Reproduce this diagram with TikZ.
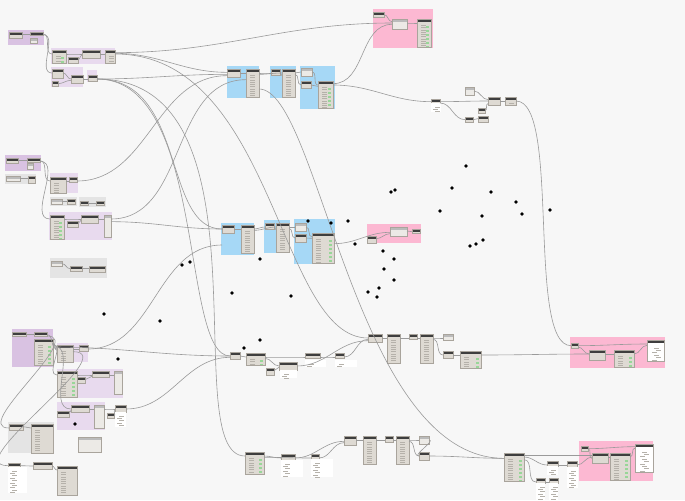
\documentclass[tikz,border=0pt]{standalone}
\usetikzlibrary{fit,calc}
\definecolor{bg}{HTML}{F7F7F7}
\definecolor{purA}{HTML}{D9C2E2}
\definecolor{purB}{HTML}{E8DAEE}
\definecolor{blu}{HTML}{A6D8F6}
\definecolor{pnk}{HTML}{FCB8D2}
\definecolor{gry}{HTML}{E4E4E4}
\definecolor{nbody}{HTML}{DEDAD3}
\definecolor{nedge}{HTML}{A9A49C}
\definecolor{hdr}{HTML}{3E3E3E}
\definecolor{wirec}{HTML}{9A9A9A}
\definecolor{gbar}{HTML}{98D698}
\definecolor{txt}{HTML}{B5B1AA}
\definecolor{lite}{HTML}{ECEAE6}
\tikzset{
 hdrpic/.style={path picture={\fill[hdr] (path picture bounding box.north west) rectangle ([yshift=-2.2pt]path picture bounding box.north east);}},
 dn/.style={draw=nedge, line width=0.3pt, fill=nbody, inner sep=0pt, outer sep=0pt, hdrpic},
 lst/.style={draw=nedge, line width=0.3pt, fill=nbody, inner sep=0pt, outer sep=0pt,
   path picture={\fill[hdr] (path picture bounding box.north west) rectangle ([yshift=-2.2pt]path picture bounding box.north east);
     \foreach \k in {1,...,16} \draw[txt,line width=0.3pt] ([xshift=3pt,yshift={-3pt-\k*1.7pt}]path picture bounding box.north west) -- ++(5,0);}},
 grn/.style={draw=nedge, line width=0.3pt, fill=nbody, inner sep=0pt, outer sep=0pt,
   path picture={\fill[hdr] (path picture bounding box.north west) rectangle ([yshift=-2.2pt]path picture bounding box.north east);
     \foreach \k in {1,...,12} {\draw[txt,line width=0.3pt] ([xshift=3pt,yshift={-3pt-\k*1.7pt}]path picture bounding box.north west) -- ++(5,0);
       \fill[gbar] ([xshift=-3.6pt,yshift={-2pt-\k*3pt}]path picture bounding box.north east) rectangle ++(3,2.6);}}},
 lt/.style={draw=nedge, line width=0.3pt, fill=lite, inner sep=0pt, outer sep=0pt,
   path picture={\fill[hdr!35] (path picture bounding box.north west) rectangle ([yshift=-2pt]path picture bounding box.north east);}},
 wn/.style={draw=nedge, line width=0.3pt, fill=white, inner sep=0pt, outer sep=0pt,
   path picture={\fill[hdr] (path picture bounding box.north west) rectangle ([yshift=-2.2pt]path picture bounding box.north east);
     \foreach \k in {1,...,12} \draw[txt,line width=0.3pt] ([xshift={4pt+mod(\k,3)*1.5pt},yshift={-4pt-\k*1.8pt}]path picture bounding box.north west) -- ++(5,0);}},
 wb/.style={fill=white, draw=none, inner sep=0pt, outer sep=0pt,
   path picture={\foreach \k in {1,...,10} \draw[txt,line width=0.3pt] ([xshift={1.5pt+mod(\k,2)*1.5pt},yshift={-1pt-\k*1.8pt}]path picture bounding box.north west) -- ++(5,0);}},
 grp/.style={inner sep=0pt, outer sep=0pt, draw=none},
 dotn/.style={circle, fill=black, inner sep=0pt, minimum size=2.8pt},
 wire/.style={draw=wirec, line width=0.45pt},
}
\newcommand\G[6]{\node[grp, fill=#2, fit={(#3,#4) (#5,#6)}] (#1) {};}
\newcommand\N[6][dn]{\node[#1, fit={(#3,#4) (#5,#6)}] (#2) {};}
\newcommand\W[4]{\draw[wire] ([yshift=-#3pt]#1.north east) to[out=0,in=180] ([yshift=-#4pt]#2.north west);}
\newcommand\WL[6]{\draw[wire] ([yshift=-#3pt]#1.north east) .. controls +(#5,0) and +(-#6,0) .. ([yshift=-#4pt]#2.north west);}
\newcommand\D[3]{\node[dotn] (#1) at (#2,#3) {};}
\begin{document}
\begin{tikzpicture}[x=0.75pt,y=-0.75pt]
\fill[bg] (0,0) rectangle (685,500);
\useasboundingbox (0,0) rectangle (685,500);
% ---------- groups
\G{g1}{purA}{8}{30}{44}{45}
\G{g2}{purB}{51}{48}{115}{64}
\G{g3}{purB}{51}{67}{83}{87}
\G{g4}{purB}{87}{70}{97}{82}
\G{g5}{blu}{227}{66}{259}{98}
\G{g6}{blu}{270}{66}{296}{98}
\G{g7}{blu}{300}{66}{335}{109}
\G{g8}{pnk}{373}{9}{433}{48}
\G{g9}{purA}{5}{155}{41}{171}
\G{g10}{gry}{5}{174}{36}{184}
\G{g11}{purB}{50}{173}{78}{193}
\G{g12}{gry}{50}{197}{77}{206}
\G{g13}{gry}{79}{197}{106}{207}
\G{g14}{purB}{49}{212}{112}{240}
\G{g15}{gry}{50}{258}{107}{278}
\G{g16}{blu}{221}{223}{254}{255}
\G{g17}{blu}{264}{220}{290}{253}
\G{g18}{blu}{294}{219}{335}{264}
\G{g19}{pnk}{367}{224}{421}{243}
\G{g20}{purA}{12}{329}{53}{367}
\G{g21}{purB}{57}{343}{88}{362}
\G{g22}{purB}{57}{369}{123}{398}
\G{g23}{purB}{57}{402}{105}{430}
\G{g24}{gry}{8}{422}{54}{453}
\G{g25}{pnk}{570}{337}{665}{368}
\G{g26}{pnk}{579}{441}{653}{481}
% ---------- nodes
\N{a1}{9}{32}{22}{38}
\N{a2}{30}{32}{43}{35}
\N[lt]{a3}{30}{38}{37}{43}
\N[grn]{b1}{52}{50}{66}{63}
\N{b2}{68}{57}{78}{63}
\N{b3}{82}{50}{100}{58}
\N[lst]{b4}{105}{50}{115}{63}
\N{c1}{52}{69}{63}{78}
\N{c2}{52}{81}{58}{86}
\N{c3}{71}{75}{83}{83}
\N{c4}{88}{75}{97}{81}
\N{e1}{227}{69}{240}{77}
\N[lst]{e2}{246}{69}{259}{97}
\N{e3}{271}{69}{280}{75}
\N[lst]{e4}{282}{69}{295}{97}
\N[lt]{e5}{301}{68}{312}{76}
\N{e6}{301}{81}{311}{88}
\N[grn]{e7}{318}{81}{333}{108}
\N{p1}{373}{12}{384}{17}
\N[lt]{p2}{392}{19}{407}{29}
\N[grn]{p3}{417}{19}{431}{47}
\N[lt]{f1}{465}{87}{474}{95}
\N{f2}{431}{99}{440}{103}
\N{f3}{488}{97}{500}{105}
\N[lst]{f4}{505}{97}{516}{105}
\N{f5}{465}{117}{473}{122}
\N{f6}{478}{108}{485}{113}
\N{f7}{478}{116}{488}{122}
\N{h1}{6}{158}{18}{163}
\N{h2}{27}{158}{40}{162}
\N[lt]{h3}{27}{163}{33}{169}
\N[lt]{h4}{6}{176}{20}{181}
\N{h5}{28}{176}{35}{183}
\N[lst]{h6}{50}{177}{66}{193}
\N{h7}{69}{177}{77}{182}
\N[lt]{h8}{51}{199}{62}{204}
\N{h9}{67}{199}{75}{204}
\N{h10}{80}{201}{88}{205}
\N{h11}{96}{201}{104}{205}
\N[grn]{h12}{50}{215}{64}{239}
\N{h13}{67}{221}{78}{227}
\N{h14}{81}{215}{98}{223}
\N[lt]{h15}{104}{215}{111}{237}
\N[lt]{h16}{51}{261}{62}{266}
\N{h17}{70}{266}{82}{271}
\N{h18}{89}{266}{105}{272}
\N{m1}{222}{225}{234}{233}
\N[lst]{m2}{241}{225}{254}{253}
\N{m3}{265}{223}{274}{229}
\N[lst]{m4}{276}{223}{289}{252}
\N[lt]{m5}{295}{223}{306}{231}
\N{m6}{295}{234}{306}{242}
\N[grn]{m7}{312}{233}{334}{263}
\N{m8}{367}{236}{376}{243}
\N[lt]{m9}{390}{227}{407}{236}
\N{m10}{412}{229}{420}{233}
\N{k1}{12}{332}{26}{336}
\N{k2}{34}{332}{47}{336}
\N[grn]{k3}{34}{339}{53}{365}
\N[lst]{k4}{57}{345}{73}{362}
\N{k5}{79}{345}{88}{351}
\N[grn]{k6}{57}{371}{77}{397}
\N{k7}{77}{377}{85}{383}
\N{k8}{92}{371}{109}{377}
\N[lt]{k9}{114}{371}{122}{394}
\N{k10}{57}{411}{69}{417}
\N{k11}{71}{405}{89}{412}
\N[lt]{k12}{94}{405}{104}{428}
\N{k13}{107}{413}{114}{418}
\N{k14}{115}{405}{126}{412}
\N{k15}{9}{424}{23}{430}
\N[lst]{k16}{31}{424}{53}{453}
\N[lt]{k17}{78}{437}{101}{452}
\N{k18}{8}{463}{20}{467}
\N{k19}{33}{462}{52}{469}
\N[lst]{k20}{57}{466}{77}{495}
\N{r1}{230}{352}{240}{359}
\N[grn]{r2}{246}{353}{265}{365}
\N{r3}{266}{368}{274}{375}
\N{r4}{279}{362}{297}{370}
\N{r5}{305}{353}{320}{358}
\N{r6}{335}{353}{344}{358}
\N{r7}{368}{334}{382}{342}
\N[lst]{r8}{387}{334}{400}{363}
\N{r9}{409}{334}{417}{339}
\N[lst]{r10}{420}{334}{433}{363}
\N[lt]{r11}{443}{334}{453}{340}
\N{r12}{443}{351}{453}{358}
\N[grn]{r13}{460}{351}{481}{368}
\N{q1}{571}{343}{578}{348}
\N{q2}{589}{350}{605}{360}
\N[grn]{q3}{614}{350}{634}{367}
\N[wn]{q4}{647}{340}{664}{361}
\N[grn]{s1}{245}{452}{264}{474}
\N{s2}{281}{454}{295}{460}
\N{s3}{311}{454}{319}{459}
\N{s4}{344}{436}{356}{445}
\N[lst]{s5}{363}{436}{376}{464}
\N{s6}{385}{436}{393}{442}
\N[lst]{s7}{396}{436}{409}{464}
\N[lt]{s8}{419}{436}{429}{444}
\N{s9}{419}{452}{429}{460}
\N[grn]{t1}{504}{453}{524}{481}
\N{t2}{547}{461}{558}{466}
\N{t3}{567}{461}{577}{467}
\N{t4}{536}{478}{545}{483}
\N{t5}{549}{478}{558}{483}
\N{t6}{581}{446}{588}{451}
\N{t7}{592}{453}{608}{463}
\N[grn]{t8}{610}{453}{630}{480}
\N[wn]{t9}{635}{444}{653}{472}
% ---------- previews
\N[wb]{w1}{431}{103}{441}{112}
\N[wb]{w2}{115}{412}{126}{427}
\N[wb]{w3}{8}{467}{27}{493}
\N[wb]{w4}{280}{370}{297}{378}
\N[wb]{w5}{305}{360}{326}{367}
\N[wb]{w6}{335}{360}{357}{367}
\N[wb]{w7}{281}{460}{303}{477}
\N[wb]{w8}{311}{459}{333}{477}
\N[wb]{w9}{547}{466}{558}{475}
\N[wb]{w10}{567}{467}{578}{488}
\N[wb]{w11}{536}{483}{545}{500}
\N[wb]{w12}{549}{483}{558}{500}
% ---------- wires
\W{a1}{a2}{2}{2}
\W{a2}{b1}{1.5}{3}
\W{a2}{c1}{2}{3}
\W{b1}{b3}{3}{3}
\W{b2}{b3}{2}{4}
\W{b3}{b4}{3}{3}
\W{c1}{c3}{3}{3}
\W{c2}{c3}{2}{4}
\W{c3}{c4}{3}{3}
\W{b4}{p2}{2}{3}
\W{b4}{e1}{2.5}{2.5}
\WL{b4}{r7}{3}{3}{160}{90}
\W{c4}{e1}{3}{4}
\WL{c4}{m1}{3}{3}{90}{60}
\WL{c4}{s1}{3}{3}{180}{70}
\WL{c4}{r1}{3}{3}{110}{50}
\W{e1}{e2}{3}{3}
\W{e2}{e3}{3}{3}
\W{e2}{e4}{4}{3}
\W{e3}{e4}{3}{5}
\W{e4}{e5}{3}{3}
\W{e4}{e6}{4}{3}
\W{e5}{e7}{3}{3}
\W{e6}{e7}{3}{4}
\W{e7}{f2}{3}{2}
\W{e7}{p2}{2}{4}
\WL{e2}{t1}{15}{4}{60}{150}
\W{p1}{p2}{2}{2}
\W{p2}{p3}{3}{3}
\W{f2}{f3}{2}{3}
\W{f1}{f3}{3}{2}
\W{f2}{f5}{3}{2}
\W{f5}{f7}{2}{2}
\W{f6}{f3}{2}{5}
\W{f3}{f4}{3}{3}
\WL{f4}{q1}{3}{2}{45}{45}
\W{h1}{h2}{2}{2}
\W{h2}{h6}{2}{3}
\W{h2}{h12}{2.5}{3}
\W{h4}{h5}{2}{2}
\W{h6}{h7}{3}{3}
\W{h8}{h9}{2}{2}
\W{h10}{h11}{2}{2}
\W{h12}{h14}{3}{3}
\W{h13}{h14}{2}{4}
\W{h14}{h15}{3}{3}
\W{h16}{h17}{2}{2}
\W{h17}{h18}{2}{2}
\W{h7}{e1}{3}{5}
\W{h15}{e2}{3}{8}
\W{h15}{m1}{5}{3}
\W{m1}{m2}{3}{3}
\W{m2}{m3}{3}{3}
\W{m2}{m4}{4}{3}
\W{m3}{m4}{3}{5}
\W{m4}{m5}{3}{3}
\W{m4}{m6}{4}{3}
\W{m5}{m7}{3}{3}
\W{m6}{m7}{3}{4}
\W{m7}{m9}{8}{4}
\W{m8}{m9}{2}{5}
\W{m9}{m10}{3}{2}
\W{k1}{k2}{2}{2}
\W{k2}{k4}{2}{3}
\W{k3}{k4}{3}{4}
\W{k4}{k5}{3}{3}
\W{k3}{k6}{4}{3}
\W{k6}{k8}{3}{3}
\W{k7}{k8}{2}{4}
\W{k8}{k9}{3}{3}
\W{k3}{k11}{5}{3}
\W{k10}{k11}{2}{4}
\W{k11}{k12}{3}{3}
\W{k12}{k14}{3}{3}
\W{k13}{k14}{2}{4}
\W{k5}{m1}{3}{15}
\W{k3}{r1}{6}{3}
\W{k14}{r1}{3}{4}
\W{k2}{k15}{3}{3}
\W{k4}{k18}{5}{2}
\W{k15}{k16}{2}{3}
\W{k18}{k19}{2}{3}
\W{k19}{k20}{3}{3}
\W{r1}{r2}{3}{3}
\W{r2}{r4}{4}{3}
\W{r3}{r4}{2}{4}
\W{r2}{r5}{3}{3}
\W{r5}{r6}{3}{3}
\W{r6}{r7}{3}{4}
\W{r4}{r7}{3}{5}
\W{r7}{r8}{3}{3}
\W{r8}{r9}{3}{3}
\W{r9}{r10}{3}{3}
\W{r10}{r11}{3}{3}
\W{r10}{r12}{4}{3}
\W{r12}{r13}{3}{3}
\W{r13}{q2}{3}{3}
\W{q1}{q2}{3}{3}
\W{q1}{q4}{2}{3}
\W{q2}{q3}{3}{3}
\W{q3}{q4}{3}{4}
\W{s1}{s2}{3}{3}
\W{s1}{s3}{4}{3}
\W{s2}{s4}{3}{4}
\W{s3}{s4}{3}{5}
\W{s4}{s5}{3}{3}
\W{s5}{s6}{3}{3}
\W{s6}{s7}{3}{3}
\W{s7}{s8}{3}{3}
\W{s7}{s9}{4}{3}
\W{s8}{s9}{3}{3}
\W{s9}{t1}{3}{4}
\W{t1}{t2}{3}{3}
\W{t1}{t4}{5}{3}
\W{t2}{t3}{3}{3}
\W{t4}{t5}{3}{3}
\W{t3}{t7}{3}{3}
\W{t1}{t7}{2}{2}
\W{t6}{t7}{2}{4}
\W{t7}{t8}{3}{3}
\W{t8}{t9}{3}{3}
\W{t6}{t9}{2}{2}
% ---------- dots
\D{d1}{466}{166}\D{d2}{391}{192}\D{d3}{395}{190}\D{d4}{452}{188}
\D{d5}{491}{192}\D{d6}{516}{202}\D{d7}{522}{214}\D{d8}{550}{210}
\D{d9}{440}{211}\D{d10}{482}{216}\D{d11}{308}{221}\D{d12}{331}{223}
\D{d13}{348}{221}\D{d14}{355}{244}\D{d15}{383}{251}\D{d16}{394}{259}
\D{d17}{384}{269}\D{d18}{470}{246}\D{d19}{476}{244}\D{d20}{483}{240}
\D{d21}{190}{262}\D{d22}{182}{265}\D{d23}{260}{259}\D{d24}{394}{280}
\D{d25}{379}{288}\D{d26}{368}{292}\D{d27}{377}{297}\D{d28}{232}{293}
\D{d29}{291}{296}\D{d30}{104}{314}\D{d31}{160}{321}\D{d32}{118}{359}
\D{d33}{244}{348}\D{d34}{260}{340}\D{d35}{75}{424}
\end{tikzpicture}
\end{document}
